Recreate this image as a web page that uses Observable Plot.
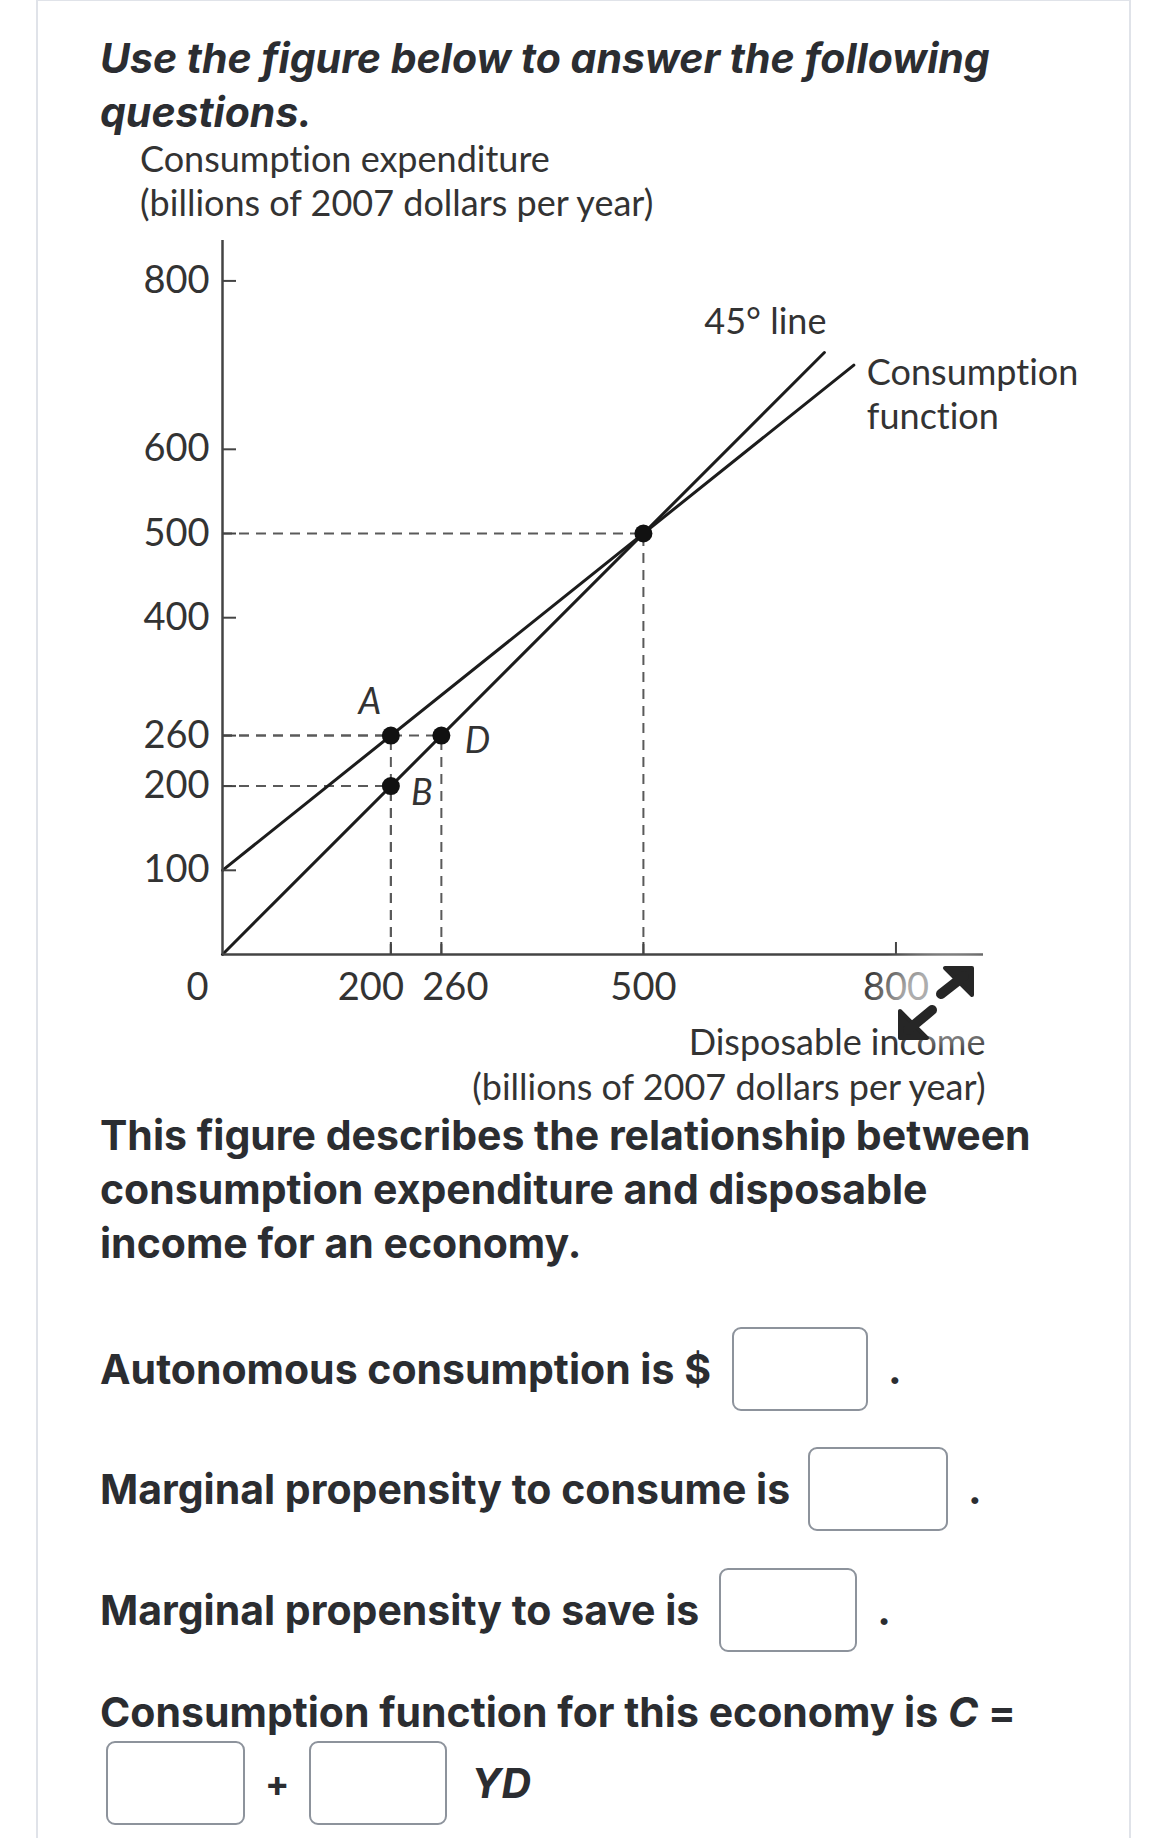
<!DOCTYPE html>
<html><head><meta charset="utf-8">
<script src="https://cdn.jsdelivr.net/npm/d3@7"></script>
<script src="https://cdn.jsdelivr.net/npm/@observablehq/plot@0.6"></script>
<style>
html,body{margin:0;padding:0;background:#fff;}
body{width:1170px;height:1838px;position:relative;overflow:hidden;font-family:Inter,Roboto,"Liberation Sans",sans-serif;color:#2b2d31;}
.card{position:absolute;left:36px;top:-1px;width:1095px;height:1900px;border:2px solid #e0e3e9;box-sizing:border-box;}
.q{position:absolute;left:100px;font-weight:700;font-size:41px;line-height:54px;white-space:nowrap;}
.title{top:31px;font-style:italic;}
.ylab{position:absolute;left:140px;top:136px;font-family:Lato,sans-serif;font-size:36px;line-height:44px;color:#333;font-variant-ligatures:none;}
#chart{position:absolute;left:0;top:230px;}
#chart text{font-variant-ligatures:none;}
.body{top:1108px;}
.row{position:absolute;left:100px;height:86px;display:flex;align-items:center;font-weight:700;font-size:41px;white-space:nowrap;}
.box{width:136px;height:84px;border:2.5px solid #8d939c;border-radius:9px;box-sizing:border-box;flex:none;}
.dot{margin-left:20px;}
.fade{position:absolute;left:862px;top:940px;width:140px;height:115px;background:radial-gradient(ellipse at 62% 50%, rgba(255,255,255,0.6) 35%, rgba(255,255,255,0) 72%);}
.icon{position:absolute;left:896px;top:964px;}
</style></head>
<body>
<div class="card"></div>
<div class="q title">Use the figure below to answer the following<br>questions.</div>
<div class="ylab" id="ylab"></div>
<div id="chart"></div>
<div class="fade"></div>
<div class="q body">This figure describes the relationship between<br>consumption expenditure and disposable<br>income for an economy.</div>

<div class="row" style="top:1326px"><span>Autonomous consumption is $</span><div class="box" style="margin-left:21px"></div><span class="dot">.</span></div>
<div class="row" style="top:1446px"><span>Marginal propensity to consume is</span><div class="box" style="margin-left:18px;width:140px"></div><span class="dot">.</span></div>
<div class="row" style="top:1567px"><span>Marginal propensity to save is</span><div class="box" style="margin-left:20px;width:138px"></div><span class="dot">.</span></div>
<div class="q" style="top:1685px">Consumption function for this economy is <i>C</i> =</div>
<div class="row" style="top:1740px;left:106px"><div class="box" style="width:139px"></div><span style="margin:0 20px 0 20px;font-size:36px">+</span><div class="box" style="width:138px"></div><span style="margin-left:24px;font-style:italic">YD</span></div>

<svg class="icon" width="80" height="78" viewBox="0 0 80 78">
  <g fill="#262626" stroke="#262626" stroke-linejoin="round" stroke-linecap="round">
    <polygon points="49,4 76,4 76,31" stroke-width="4"/>
    <line x1="68" y1="12" x2="45" y2="30" stroke-width="10"/>
    <polygon points="4,47 4,74 31,74" stroke-width="4"/>
    <line x1="12" y1="66" x2="36" y2="46" stroke-width="10"/>
  </g>
</svg>

<script>
// ---- data ----
const yLabelLines = ["Consumption expenditure", "(billions of 2007 dollars per year)"];
const xLabel = "Disposable income\n(billions of 2007 dollars per year)";
const line45X = [0, 715];
const line45Y = [0, 715];
const consX = [0, 750];
const consY = [100, 700];
const pointNames = ["A", "B", "D", "E"];
const pointX = [200, 200, 260, 500];
const pointY = [260, 200, 260, 500];
const yTicks = [100, 200, 260, 400, 500, 600, 800];
const xTicks = [200, 260, 500, 800];
const originTick = [0];
const line45Label = "45° line";
const consLabel = "Consumption\nfunction";

document.getElementById("ylab").innerHTML = yLabelLines.join("<br>");

const line45 = line45X.map((x, i) => ({x, y: line45Y[i]}));
const cons = consX.map((x, i) => ({x, y: consY[i]}));
const pts = pointNames.map((n, i) => ({name: n, x: pointX[i], y: pointY[i]}));

const dash = {stroke: "#5a5a5a", strokeWidth: 2, strokeDasharray: "10,7"};
const ink = "#1c1c1c";
const tickFont = 38, wordFont = 36;
const lab = (name, dx, dy) => Plot.text(pts.filter(d => d.name === name),
  {x: "x", y: "y", text: "name", dx, dy, fontStyle: "italic", fontSize: wordFont, fill: "#333"});
const xTickLabel = (v, dx) => Plot.axisX({ticks: [v], tickSize: 0, tickPadding: 19, dx, fontSize: tickFont, label: null});

const chart = Plot.plot({
  width: 1170, height: 875,
  marginLeft: 222, marginRight: 187, marginTop: 10, marginBottom: 151,
  x: {domain: [0, 904], label: null},
  y: {domain: [0, 848], label: null},
  style: {fontFamily: "Lato, sans-serif", fontSize: "36px", color: "#333", background: "transparent", overflow: "visible"},
  marks: [
    Plot.ruleY(pts, {y: "y", x1: 0, x2: "x", ...dash}),
    Plot.ruleX(pts, {x: "x", y1: 0, y2: "y", ...dash}),
    Plot.line(line45, {x: "x", y: "y", stroke: ink, strokeWidth: 3}),
    Plot.line(cons, {x: "x", y: "y", stroke: ink, strokeWidth: 3}),
    Plot.ruleX([0], {stroke: "#444", strokeWidth: 2.5}),
    Plot.ruleY([0], {stroke: "#444", strokeWidth: 2.5}),
    Plot.axisY({ticks: yTicks, tickSize: -14, tickFormat: () => "", stroke: "#444", strokeWidth: 2, label: null}),
    Plot.axisY({ticks: yTicks, tickSize: 0, tickPadding: 13, fontSize: tickFont, label: null}),
    Plot.axisX({ticks: xTicks, tickSize: -12, tickFormat: () => "", stroke: "#444", strokeWidth: 2, label: null}),
    xTickLabel(originTick[0], -25),
    xTickLabel(xTicks[0], -20),
    xTickLabel(xTicks[1], 14),
    xTickLabel(xTicks[2], 0),
    xTickLabel(xTicks[3], 0),
    Plot.dot(pts, {x: "x", y: "y", r: 9, fill: "#111"}),
    lab("A", -21, -33),
    lab("B", 31, 7),
    lab("D", 36, 6),
    Plot.text([line45[1]], {x: "x", y: "y", text: () => line45Label, textAnchor: "end", dx: 2, dy: -30, fontSize: wordFont, fill: "#333"}),
    Plot.text([cons[1]], {x: "x", y: "y", text: () => consLabel, textAnchor: "start", lineAnchor: "middle", lineHeight: 1.23, dx: 13, dy: 28, fontSize: wordFont, fill: "#333"}),
    Plot.text([xLabel], {frameAnchor: "bottom-right", text: d => d, textAnchor: "end", lineAnchor: "top", lineHeight: 1.25, dx: 2, dy: 69, fontSize: wordFont, fill: "#333"})
  ]
});
document.getElementById("chart").appendChild(chart);
</script>
</body></html>
